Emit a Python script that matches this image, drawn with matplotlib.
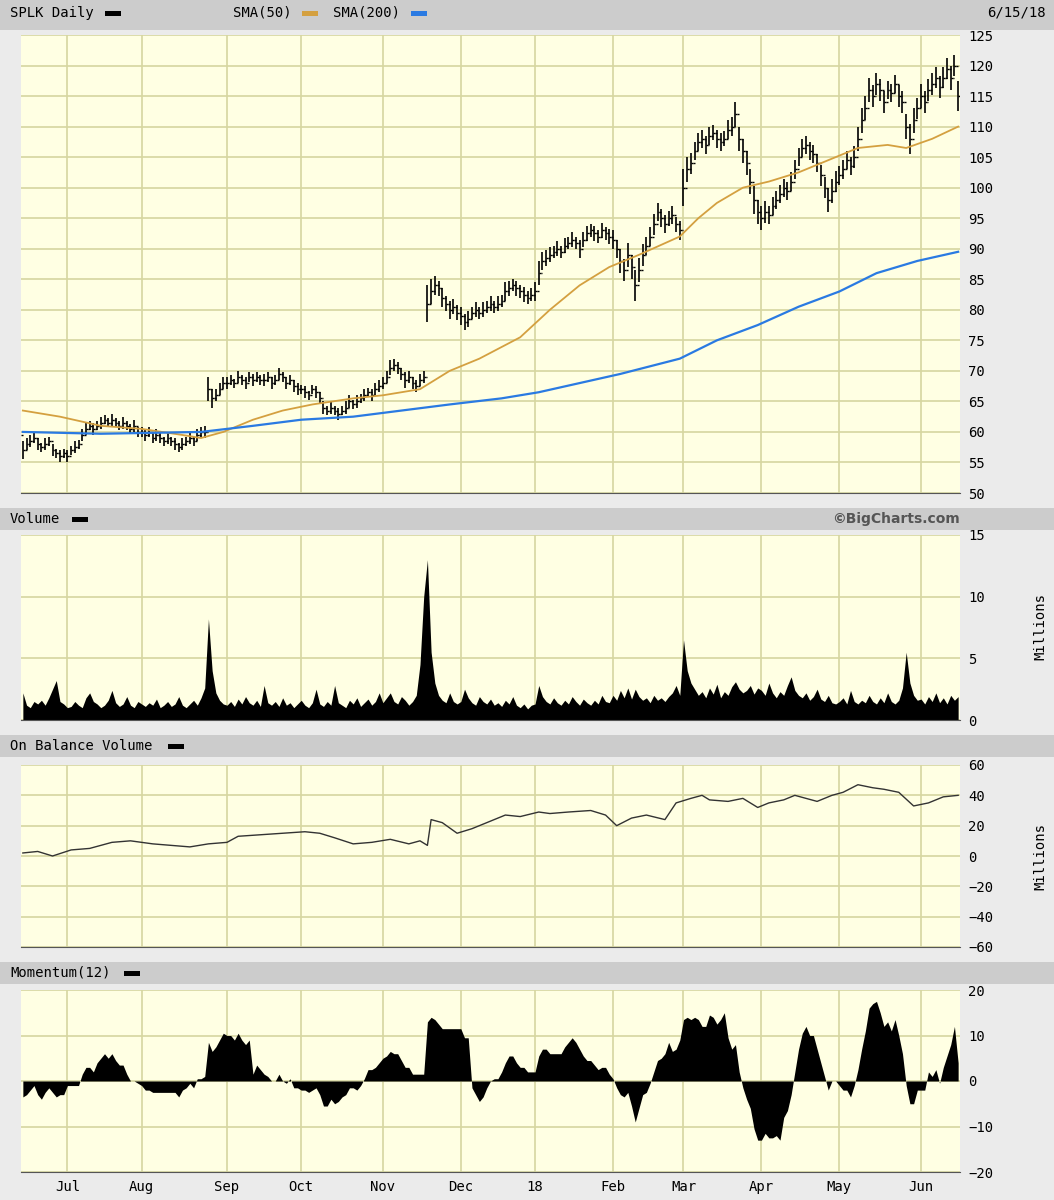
import numpy as np
import pandas as pd
import matplotlib
matplotlib.use("Agg")
import matplotlib.pyplot as plt
from matplotlib.patches import Rectangle

# ---------------- data ----------------
holidays = ['2017-07-04', '2017-09-04', '2017-11-23', '2017-12-25', '2018-01-01',
            '2018-01-15', '2018-02-19', '2018-03-30', '2018-05-28']
dates = pd.bdate_range('2017-06-15', '2018-06-15')
dates = dates[~dates.isin(pd.to_datetime(holidays))]

pre_closes = [60.5, 61, 60.5, 60, 61, 61.5, 60.5, 60, 59.5, 60, 59, 59.5]
closes = (
    [57, 58, 58.5, 59, 58, 57.5, 58, 58.5, 57, 56.5, 56, 56.5] +
    [56, 57, 57.5, 58, 59.5, 60.5, 61, 60.5, 61, 61.5, 62, 61.5, 62, 61.5, 61, 61.5, 61, 60.5, 61, 60] +
    [60, 59.5, 60, 59, 59.5, 59, 58.5, 59, 58.5, 58, 57.5, 58, 58.5, 59, 58.5, 59.5, 60, 60, 67, 65.5, 66, 67, 68] +
    [68, 68.5, 68, 69, 68.5, 68, 69, 68.5, 69, 68.5, 68.5, 69, 68, 68.5, 69.5, 69, 68, 68.5, 67.5, 67] +
    [67, 66.5, 66, 67, 66.5, 65.5, 64, 63.5, 64, 63.5, 63, 63.5, 64, 65, 64.5, 65, 65.5, 66, 66.5, 66, 67, 67.5] +
    [68, 69, 70.5, 71, 70.5, 69.5, 68.5, 69, 68, 67.5, 68.5, 69, 81, 83, 84, 83.5, 82, 81, 80, 80.5, 79.5] +
    [79, 78, 78.5, 79.5, 80, 79.5, 80, 80.5, 81, 80.5, 81, 81.5, 83, 83.5, 84, 83.5, 83, 82.5, 82, 82.5] +
    [83, 86, 88, 88.5, 89, 89.5, 90, 89.5, 90.5, 91, 91.5, 91, 90, 91.5, 92.5, 93, 92.5, 92, 93, 92.5, 92] +
    [91.5, 90, 88, 86.5, 89, 87, 84, 86.5, 89, 90.5, 92, 94, 96, 95, 94, 95, 95.5, 94, 93] +
    [100, 103, 104, 106, 107.5, 108, 107, 108.5, 109, 108, 107.5, 108, 109.5, 110, 112, 108, 106, 104, 101, 98, 96] +
    [95, 96, 95.5, 97, 98, 99, 100, 99.5, 101, 103, 105, 106.5, 107, 106, 105.5, 104, 102, 100, 98, 99.5, 101] +
    [102, 103, 104.5, 103.5, 105, 108, 111, 113, 116, 115, 117, 116, 114, 116, 115.5, 117, 115, 114, 110, 108, 111, 113] +
    [115, 114, 116, 117, 118, 116.5, 118, 119.5, 118, 120, 115]
)
spread = (
    [3, 2, 2, 1.5, 2, 1.5, 2, 1.5, 2, 1.5, 2, 1.5] +
    [2, 1.5, 2, 1.5, 2, 2, 1.5, 2, 1.5, 2, 1.5, 1.5, 2, 1.5, 1.5, 2, 1.5, 1.5, 2, 1.5] +
    [1.5, 2, 1.5, 1.5, 2, 1.5, 1.5, 2, 1.5, 2, 1.5, 2, 1.5, 2, 1.5, 2, 1.5, 2, 4, 3, 2, 2, 2] +
    [2, 1.5, 1.5, 2, 1.5, 2, 1.5, 2, 1.5, 1.5, 2, 1.5, 2, 1.5, 2, 1.5, 2, 1.5, 2, 2] +
    [1.5, 2, 1.5, 1.5, 2, 2, 2, 1.5, 2, 1.5, 2, 1.5, 2, 2, 1.5, 2, 1.5, 2, 1.5, 2, 2, 2] +
    [2, 2, 2.5, 2, 2, 2, 2.5, 2, 2, 2, 2, 2, 6, 4, 3, 2.5, 3, 2.5, 3, 2.5, 2.5] +
    [3, 2.5, 2.5, 2, 2.5, 2, 2.5, 2, 2.5, 2, 2.5, 2, 3, 2.5, 2, 2.5, 2, 2.5, 2, 2] +
    [3, 4, 3, 2.5, 2.5, 2, 2.5, 2, 2.5, 2, 2.5, 2, 3, 2.5, 2.5, 2, 2.5, 2, 2.5, 2, 2.5] +
    [3, 3, 4, 3.5, 4, 4, 5, 4, 3.5, 3, 3, 3.5, 3, 3, 3, 2.5, 3, 2.5, 3] +
    [6, 4, 3.5, 3, 3, 3, 3, 3, 2.5, 3, 3, 2.5, 3, 3, 4, 4, 4, 4, 4, 4.5, 4] +
    [4, 3.5, 3, 3, 3, 3, 3, 3, 3, 3, 3, 3, 3, 3, 3, 3, 3.5, 3.5, 4, 4, 3.5] +
    [3, 3, 3, 3, 3.5, 4, 4, 4, 4, 3.5, 3.5, 3.5, 3.5, 3, 3, 3, 3.5, 3.5, 4, 5, 4, 3.5] +
    [4, 3.5, 3.5, 3.5, 3.5, 3.5, 3.5, 3.5, 4, 3.5, 5]
)
volume = (
    [2.2, 1.2, 1.0, 1.5, 1.3, 1.6, 1.2, 1.8, 2.5, 3.2, 1.5, 1.3] +
    [1.0, 1.1, 1.5, 1.2, 1.0, 1.8, 2.2, 1.5, 1.3, 1.0, 1.2, 1.6, 2.4, 1.4, 1.1, 1.3, 1.9, 1.2, 1.0, 1.5] +
    [1.3, 1.1, 1.4, 1.2, 1.7, 1.0, 1.2, 1.5, 1.1, 1.3, 1.9, 1.2, 1.0, 1.3, 1.6, 1.2, 1.8, 2.6, 8.2, 4.0, 2.2, 1.6, 1.3] +
    [1.2, 1.5, 1.1, 1.7, 1.3, 1.9, 1.4, 1.2, 1.6, 1.1, 2.8, 1.4, 1.2, 1.5, 1.1, 1.8, 1.2, 1.4, 1.0, 1.3] +
    [1.6, 1.2, 1.0, 1.4, 2.5, 1.3, 1.1, 1.5, 1.2, 2.8, 1.4, 1.2, 1.0, 1.6, 1.3, 1.8, 1.1, 1.4, 1.7, 1.2, 1.5, 2.2] +
    [1.4, 1.8, 2.2, 1.5, 1.3, 1.9, 1.6, 1.2, 1.5, 2.0, 4.5, 10.0, 13.0, 5.5, 3.0, 2.0, 1.6, 1.4, 2.2, 1.5, 1.3] +
    [1.5, 2.5, 1.8, 1.4, 1.2, 1.9, 1.5, 1.3, 1.7, 1.2, 1.4, 1.1, 1.6, 1.3, 1.9, 1.2, 1.0, 1.3, 0.9, 1.2] +
    [1.3, 2.8, 1.9, 1.5, 1.3, 1.8, 1.4, 1.2, 1.6, 1.3, 1.9, 1.5, 1.2, 1.7, 1.4, 1.2, 1.6, 1.3, 2.0, 1.5, 1.4] +
    [2.0, 1.6, 2.4, 1.8, 2.6, 1.7, 2.5, 1.9, 1.6, 1.8, 1.4, 2.0, 1.6, 1.8, 1.5, 1.9, 2.2, 2.8, 2.0] +
    [6.5, 4.0, 3.0, 2.5, 2.0, 2.3, 1.8, 2.6, 2.1, 2.9, 1.8, 2.3, 2.0, 2.7, 3.1, 2.5, 2.2, 2.4, 2.8, 2.1, 2.6] +
    [2.4, 2.0, 3.0, 2.2, 1.8, 2.3, 2.0, 2.8, 3.5, 2.4, 2.0, 1.8, 2.2, 1.6, 1.9, 2.5, 1.7, 1.5, 2.0, 1.4, 1.3] +
    [1.5, 1.8, 1.3, 2.4, 1.5, 1.3, 1.6, 1.4, 2.0, 1.5, 1.3, 1.8, 1.4, 2.2, 1.5, 1.3, 1.6, 2.6, 5.5, 3.0, 2.0, 1.6] +
    [1.7, 1.3, 1.9, 1.5, 2.2, 1.4, 1.8, 1.3, 2.0, 1.6, 1.9]
)
obv_day = [0, 4, 8, 13, 18, 24, 29, 35, 40, 45, 50, 55, 58, 64, 70, 76, 80, 84, 89, 94, 99,
           104, 107, 109, 110, 113, 117, 121, 125, 130, 134, 139, 142, 147, 153, 157, 160, 164,
           168, 173, 176, 180, 183, 185, 190, 194, 198, 201, 205, 208, 211, 214, 218, 221, 225,
           229, 232, 236, 240, 244, 248, 252]
obv_val = [2, 3, 0, 4, 5, 9, 10, 8, 7, 6, 8, 9, 13, 14, 15, 16, 15, 12, 8, 9, 11,
           8, 10, 7, 24, 22, 15, 18, 22, 27, 26, 29, 28, 29, 30, 27, 20, 25,
           27, 24, 35, 38, 40, 37, 36, 38, 32, 35, 37, 40, 38, 36, 40, 42, 47,
           45, 44, 42, 33, 35, 39, 40]
sma50_day = [0, 10, 21, 32, 43, 48, 54, 62, 70, 78, 89, 97, 107, 115, 123, 134, 142, 150,
             158, 166, 177, 182, 187, 194, 201, 209, 217, 225, 233, 238, 245, 252]
sma50_val = [63.5, 62.5, 61, 60.5, 59.5, 59, 60, 62, 63.5, 64.5, 65.5, 66, 67, 70, 72, 75.5,
             80, 84, 87, 89, 92, 95, 97.5, 100, 101, 102.5, 104.5, 106.5, 107, 106.5, 108, 110]
sma200_day = [0, 21, 48, 62, 75, 89, 102, 115, 129, 139, 150, 161, 177, 187, 198, 209, 220, 230, 241, 252]
sma200_val = [60, 59.7, 60, 61, 62, 62.5, 63.5, 64.5, 65.5, 66.5, 68, 69.5, 72, 75, 77.5,
              80.5, 83, 86, 88, 89.5]

month_labels = ['Jul', 'Aug', 'Sep', 'Oct', 'Nov', 'Dec', '18', 'Feb', 'Mar', 'Apr', 'May', 'Jun']

# ---------------- derived ----------------
n = min(len(closes), len(spread), len(volume), len(dates))
c = np.array(closes[:n], float)
sp = np.array(spread[:n], float)
vol = np.array(volume[:n], float)
dates = dates[:n]
x = np.arange(n)
hi = c + sp * 0.5
lo = c - sp * 0.5
op = np.concatenate([[pre_closes[-1]], c[:-1]])
allc = np.concatenate([pre_closes, c])
mom = allc[12:] - allc[:-12]

mstarts = [i for i in range(1, n) if dates[i].month != dates[i - 1].month]

# ---------------- figure ----------------
W, H = 1054, 1200
fig = plt.figure(figsize=(W / 100, H / 100), dpi=100)
fig.patch.set_facecolor('#ebebeb')
BG = '#ffffe3'
GRID = '#d6d6a0'
L, R = 21, 960
mono = 'DejaVu Sans Mono'

def header(y0, y1):
    fig.add_artist(Rectangle((0, 1 - y1 / H), 1, (y1 - y0) / H, transform=fig.transFigure,
                             facecolor='#cccccc', edgecolor='none', zorder=0))

def mkax(y0, y1):
    ax = fig.add_axes([L / W, 1 - y1 / H, (R - L) / W, (y1 - y0) / H])
    ax.set_facecolor(BG)
    ax.set_xlim(-0.5, n - 0.5)
    ax.set_xticks(mstarts)
    ax.set_xticklabels([])
    ax.tick_params(axis='x', length=0)
    ax.yaxis.tick_right()
    ax.tick_params(axis='y', length=0, labelsize=10, pad=6)
    ax.grid(True, color=GRID, lw=1.2)
    ax.set_axisbelow(True)
    for s in ax.spines.values():
        s.set_visible(False)
    ax.spines['bottom'].set_visible(True)
    ax.spines['bottom'].set_color('#555555')
    return ax

def monofy(ax):
    for lab in ax.get_yticklabels() + ax.get_xticklabels():
        lab.set_fontfamily(mono)

header(0, 30)
header(508, 530)
header(735, 757)
header(962, 984)

def htext(xp, yp, t, ha='left'):
    fig.text(xp / W, 1 - yp / H, t, ha=ha, va='center', fontsize=10, family=mono)

def swatch(xp, yp, col):
    fig.add_artist(Rectangle((xp / W, 1 - (yp + 2.5) / H), 16 / W, 5 / H,
                             transform=fig.transFigure, facecolor=col, edgecolor='none'))

htext(10, 13, 'SPLK Daily'); swatch(105, 13, 'black')
htext(233, 13, 'SMA(50)'); swatch(302, 13, '#d4a040')
htext(333, 13, 'SMA(200)'); swatch(411, 13, '#2a7ae2')
htext(1046, 13, '6/15/18', ha='right')
htext(10, 519, 'Volume'); swatch(72, 519, 'black')
fig.text(960 / W, 1 - 519 / H, '©BigCharts.com', ha='right', va='center', fontsize=10,
         family='DejaVu Sans', fontweight='bold', color='#555555')
htext(10, 746, 'On Balance Volume'); swatch(168, 746, 'black')
htext(10, 973, 'Momentum(12)'); swatch(124, 973, 'black')

# price
ax1 = mkax(35, 493)
ax1.set_ylim(50, 125)
ax1.set_yticks(range(50, 126, 5))
monofy(ax1)
ax1.vlines(x, lo, hi, color='black', lw=1.2)
ax1.hlines(op, x - 0.5, x, color='black', lw=1.0)
ax1.hlines(c, x, x + 0.5, color='black', lw=1.0)
ax1.plot(sma50_day, sma50_val, color='#d4a040', lw=1.3)
ax1.plot(sma200_day, sma200_val, color='#2a7ae2', lw=1.6)

# volume
ax2 = mkax(535, 720)
ax2.set_ylim(0, 15)
ax2.set_yticks([0, 5, 10, 15])
monofy(ax2)
ax2.fill_between(x, 0, vol, color='black', lw=0)
fig.text(1040 / W, 1 - 627 / H, 'Millions', rotation=90, ha='center', va='center',
         fontsize=10, family=mono)

# OBV
ax3 = mkax(765, 947)
ax3.set_ylim(-60, 60)
ax3.set_yticks(range(-60, 61, 20))
monofy(ax3)
ax3.plot(obv_day, obv_val, color='#333333', lw=1.0)
fig.text(1040 / W, 1 - 856 / H, 'Millions', rotation=90, ha='center', va='center',
         fontsize=10, family=mono)

# momentum
ax4 = mkax(990, 1172)
ax4.set_ylim(-20, 20)
ax4.set_yticks([-20, -10, 0, 10, 20])
ax4.fill_between(x, 0, mom, color='black', lw=0)
ax4.set_xticklabels(month_labels[:len(mstarts)], fontsize=10)
ax4.tick_params(axis='x', pad=6)
monofy(ax4)

fig.savefig('out.png', dpi=100, facecolor=fig.get_facecolor())
